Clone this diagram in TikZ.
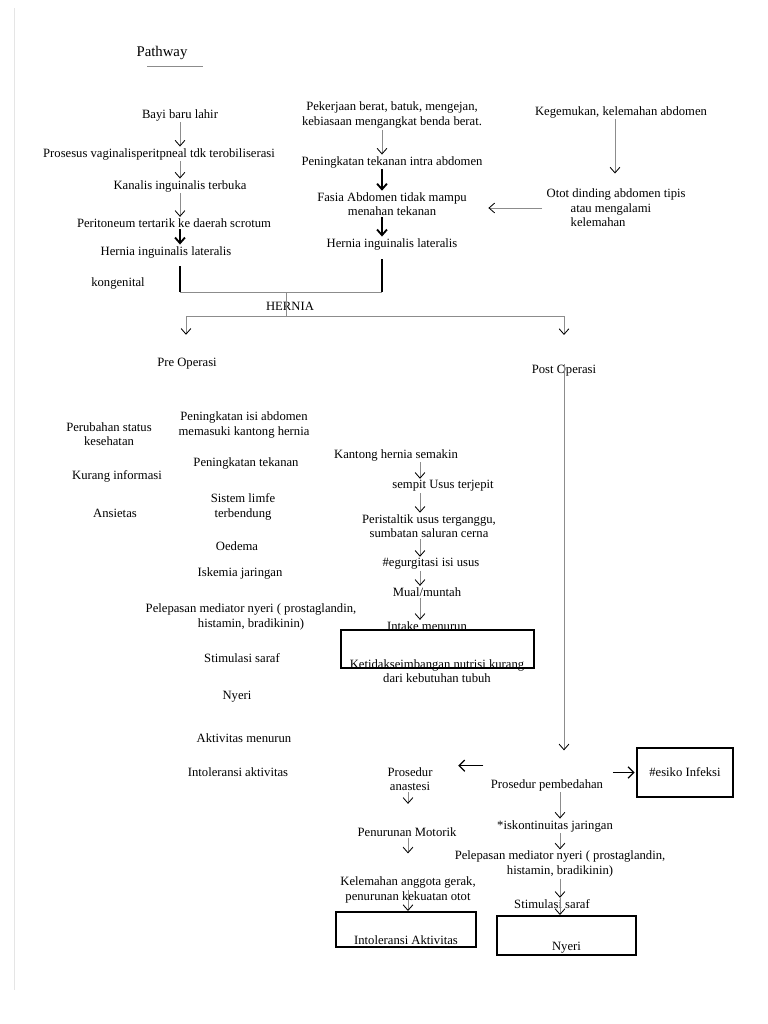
\documentclass[tikz,border=0pt]{standalone}
\usepackage{fontspec}
\setmainfont{Liberation Serif}
\usetikzlibrary{positioning,calc,arrows.meta}
\definecolor{linegray}{rgb}{0.55,0.55,0.55}
\tikzset{
	txt/.style={font=\fontsize{9}{10.2}\selectfont, inner sep=1pt, align=center},
	garrow/.style={draw=linegray, line width=0.6pt, -{Straight Barb[length=4pt,width=7pt,color=black]}},
	barrow/.style={draw=black, line width=1.3pt, -{Straight Barb[length=4pt,width=7pt]}},
	harrow/.style={draw=black, line width=0.9pt, -{Straight Barb[length=4pt,width=8pt]}},
	kotak/.style={draw, line width=1.4pt, inner sep=0pt},
}

\begin{document}
\begin{tikzpicture}[x=0.025cm, y=-0.025cm]
	\useasboundingbox (0,0) rectangle (768,1024);
	\draw[black!10] (14,8) -- (14,990);
	
	% columns of arrows
	\coordinate (colA) at (180,0);
	\coordinate (colB) at (382,0);
	\coordinate (colC) at (615,0);
	\coordinate (colD) at (420,0);
	\coordinate (colE) at (560,0);
	\coordinate (colF) at (408,0);
	
	\node[txt, font=\fontsize{10.5}{12}\selectfont] (judul) at (162,53) {Pathway};
	\draw[linegray] ($(judul.south)+(-15,5)$) -- ($(judul.south)+(41,5)$);
	
	% left column
	\node[txt] (bayi) at (180,115) {Bayi baru lahir};
	\node[txt] (prosesus) at (159,154) {Prosesus vaginalisperitpneal tdk terobiliserasi};
	\node[txt] (kanalis) at (180,186) {Kanalis inguinalis terbuka};
	\node[txt] (peritoneum) at (174,223) {Peritoneum tertarik ke daerah scrotum};
	\node[txt] (herniaA) at (166,252) {Hernia inguinalis lateralis};
	\node[txt] (kongenital) at (118,283) {kongenital};
	
	\draw[garrow] (bayi.south -| colA) -- (prosesus.north -| colA);
	\draw[garrow] (prosesus.south -| colA) -- (kanalis.north -| colA);
	\draw[garrow] (kanalis.south -| colA) -- (peritoneum.north -| colA);
	\draw[barrow] (peritoneum.south -| colA) -- (herniaA.north -| colA);
	
	% middle column
	\node[txt] (pekerjaan) at (392,115) {Pekerjaan berat, batuk, mengejan,\\kebiasaan mengangkat benda berat.};
	\node[txt] (intra) at (392,162) {Peningkatan tekanan intra abdomen};
	\node[txt] (fasia) at (392,204) {Fasia Abdomen tidak mampu\\menahan tekanan};
	\node[txt] (herniaB) at (392,244) {Hernia inguinalis lateralis};
	
	\draw[garrow] (pekerjaan.south -| colB) -- (intra.north -| colB);
	\draw[barrow] (intra.south -| colB) -- (fasia.north -| colB);
	\draw[barrow] (fasia.south -| colB) -- (herniaB.north -| colB);
	
	% right column
	\node[txt] (kegemukan) at (621,112) {Kegemukan, kelemahan abdomen};
	\node[txt, align=left, anchor=west] (otot) at (545,208) {Otot dinding abdomen tipis\\\hspace*{0.6cm}atau mengalami\\\hspace*{0.6cm}kelemahan};
	
	\draw[garrow, shorten >=0.35cm] (kegemukan.south -| colC) -- (otot.north -| colC);
	\draw[garrow, shorten <=2pt, shorten >=0.5cm] (otot.west) -- (otot.west -| fasia.east);
	
	% HERNIA
	\coordinate (joinA) at (180,292);
	\coordinate (joinB) at (382,292);
	\coordinate (splitA) at (186,316);
	\coordinate (splitB) at (564,316);
	\node[txt] (hernia) at (290,306) {HERNIA};
	
	\draw[line width=1.3pt, shorten <=0.17cm] (herniaA.south -| colA) -- (joinA);
	\draw[line width=1.3pt, shorten <=0.2cm] (herniaB.south -| colB) -- (joinB);
	\draw[linegray] (joinA) -- (joinB);
	\draw[linegray] ([xshift=-3]hernia.center |- joinA) -- ([xshift=-3]hernia.center |- splitA);
	\draw[linegray] (splitA) -- (splitB);
	
	\node[txt] (pre) at (187,364) {Pre Operasi};
	\node[txt] (post) at (564,371) {Post Operasi};
	\draw[garrow, shorten >=0.55cm] (splitA) -- (pre.north -| splitA);
	\draw[garrow, shorten >=0.72cm] (splitB) -- (post.north -| splitB);
	
	% pre operasi
	\node[txt] (perubahan) at (109,434) {Perubahan status\\kesehatan};
	\node[txt] (kurang) at (117,476) {Kurang informasi};
	\node[txt] (ansietas) at (115,513) {Ansietas};
	\node[txt] (isi) at (244,425) {Peningkatan isi abdomen\\memasuki kantong hernia};
	\node[txt] (tekanan) at (246,463) {Peningkatan tekanan};
	\node[txt] (limfe) at (243,507) {Sistem limfe\\terbendung};
	\node[txt] (oedema) at (237,546) {Oedema};
	\node[txt] (iskemia) at (240,573) {Iskemia jaringan};
	\node[txt] (mediatorA) at (251,617) {Pelepasan mediator nyeri ( prostaglandin,\\histamin, bradikinin)};
	\node[txt] (stimulasiA) at (242,658) {Stimulasi saraf};
	\node[txt] (nyeriA) at (237,697) {Nyeri};
	\node[txt] (aktivitas) at (244,738) {Aktivitas menurun};
	\node[txt] (intoleransiA) at (238,772) {Intoleransi aktivitas};
	
	\node[txt] (kantong) at (396,455) {Kantong hernia semakin};
	\node[txt] (sempit) at (443,486) {sempit Usus terjepit};
	\node[txt] (peristaltik) at (429,526) {Peristaltik usus terganggu,\\sumbatan saluran cerna};
	\node[txt] (regurgitasi) at (431,564) {\#egurgitasi isi usus};
	\node[txt] (mual) at (427,592) {Mual/muntah};
	\node[txt] (intake) at (427,626) {Intake menurun};
	\node[kotak, minimum width=4.825cm, minimum height=0.95cm] (nutrisibox) at (437.5,649) {};
	\node[txt] (nutrisi) at (437,671) {Ketidakseimbangan nutrisi kurang\\dari kebutuhan tubuh};
	
	\foreach \a/\b in {kantong/sempit, sempit/peristaltik, peristaltik/regurgitasi, regurgitasi/mual, mual/intake}
		\draw[garrow] (\a.south -| colD) -- (\b.north -| colD);
	
	% post operasi
	\node[txt] (anastesi) at (410,779) {Prosedur\\anastesi};
	\node[txt] (pembedahan) at (547,785) {Prosedur pembedahan};
	\node[txt, kotak, minimum width=2.4cm, minimum height=1.225cm] (infeksi) at (685,772.5) {\#esiko Infeksi};
	
	\draw[garrow, shorten >=0.68cm] (post.north) -- (post.north |- pembedahan.north);
	\draw[harrow, shorten <=0.15cm, shorten >=0.6cm] (pembedahan.west |- anastesi.north east) -- (anastesi.north east);
	\draw[harrow, shorten <=0.2cm, shorten >=1pt] (pembedahan.east |- infeksi.west) -- (infeksi.west);
	
	\node[txt] (motorik) at (407,832) {Penurunan Motorik};
	\node[txt] (kelemahan) at (408,890) {Kelemahan anggota gerak,\\penurunan kekuatan otot};
	\node[kotak, minimum width=3.5cm, minimum height=0.875cm] (intolbox) at (406,929.5) {};
	\node[txt, above=1pt of intolbox.south] (intoleransiB) {Intoleransi Aktivitas};
	
	\draw[garrow, shorten >=0.55cm] (anastesi.south -| colF) -- (motorik.north -| colF);
	\draw[garrow, shorten >=0.55cm] (motorik.south -| colF) -- (kelemahan.north -| colF);
	\draw[garrow] (kelemahan.center -| colF) -- (intolbox.north -| colF);
	
	\node[txt] (diskontinuitas) at (555,826) {*iskontinuitas jaringan};
	\node[txt] (mediatorB) at (560,864) {Pelepasan mediator nyeri ( prostaglandin,\\histamin, bradikinin)};
	\node[txt] (stimulasiB) at (552,904) {Stimulasi saraf};
	\node[kotak, minimum width=3.475cm, minimum height=0.975cm] (nyeribox) at (566.5,935.5) {};
	\node[txt, above=1pt of nyeribox.south] (nyeriB) {Nyeri};
	
	\draw[garrow] (pembedahan.south -| colE) -- (diskontinuitas.north -| colE);
	\draw[garrow] (diskontinuitas.south -| colE) -- (mediatorB.north -| colE);
	\draw[garrow] (mediatorB.south -| colE) -- (stimulasiB.north -| colE);
	\draw[garrow] (stimulasiB.north -| colE) -- (nyeribox.north -| colE);
\end{tikzpicture}
\end{document}
